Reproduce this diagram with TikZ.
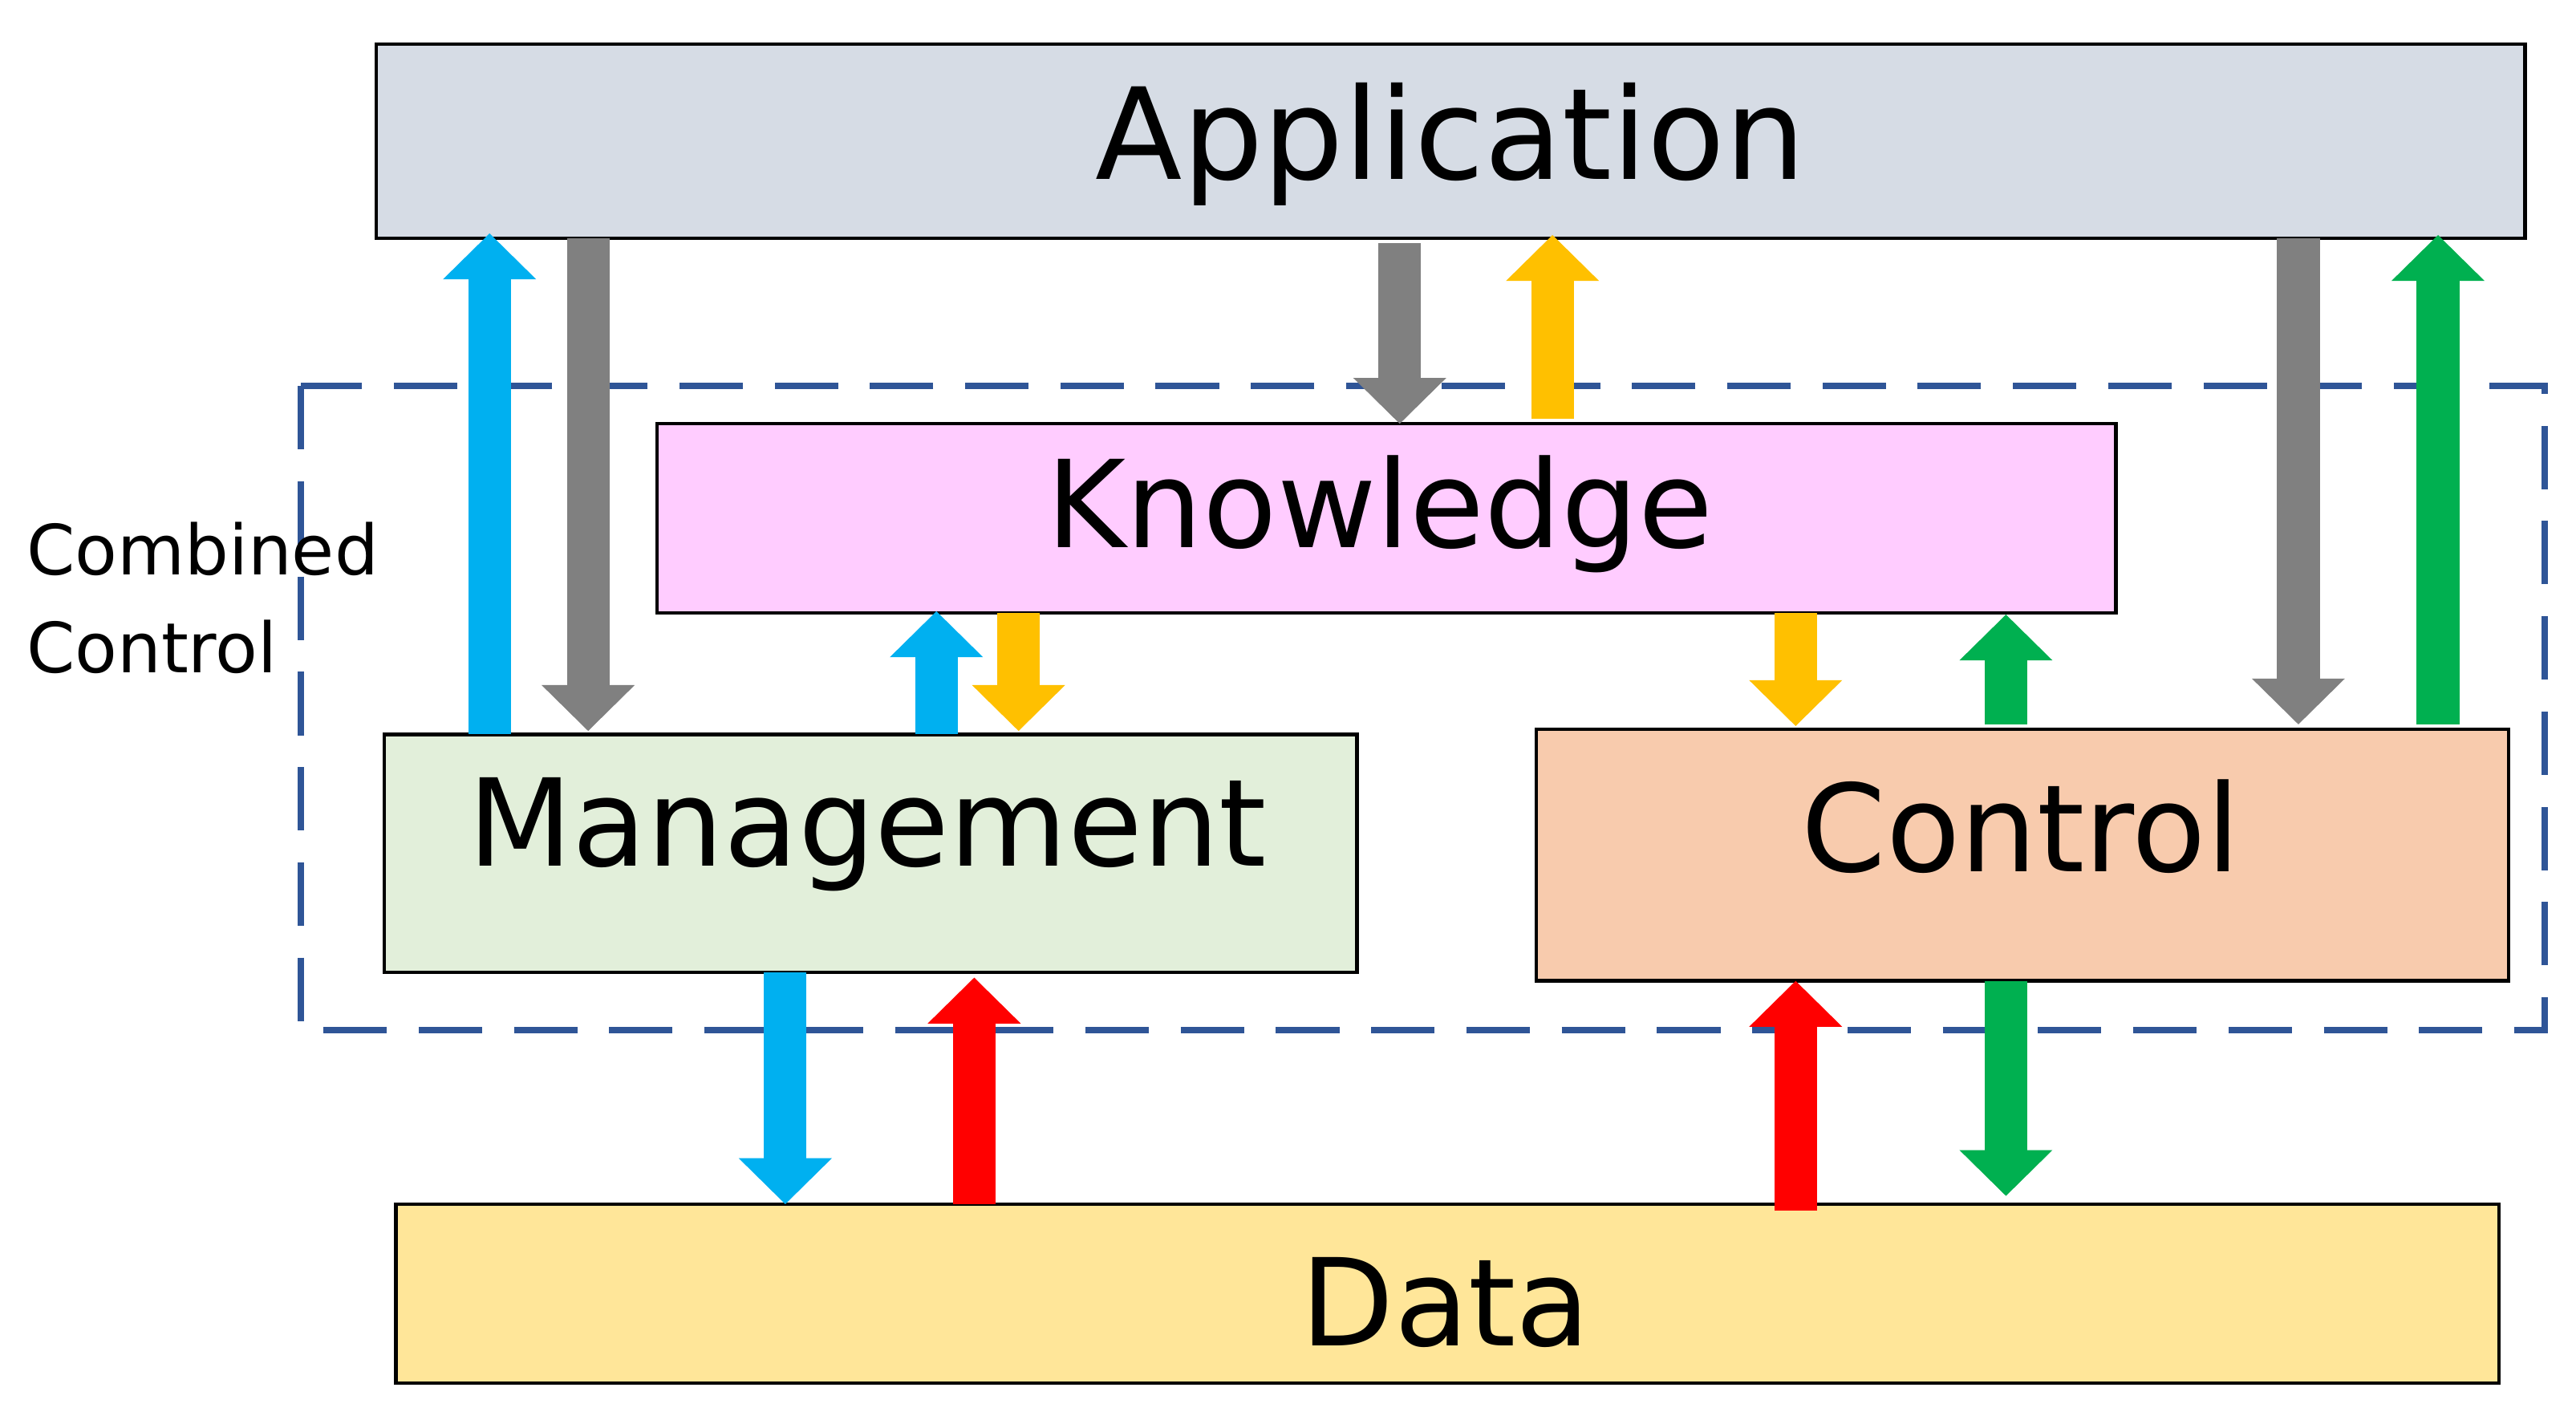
\documentclass[tikz,border=0pt]{standalone}
\usepackage{fontspec}
\setmainfont{DejaVu Sans}
\usetikzlibrary{arrows.meta}
\definecolor{cblue}{HTML}{00B0F0}
\definecolor{cgray}{HTML}{808080}
\definecolor{cyel}{HTML}{FFC000}
\definecolor{cgreen}{HTML}{00B050}
\definecolor{cred}{HTML}{FF0000}
\definecolor{cdash}{HTML}{2F5597}
\begin{document}
\begin{tikzpicture}[x=0.02cm,y=-0.02cm,
  box/.style={draw=black,line width=1.2pt,inner sep=0pt},
  fa/.style={line width=0.52cm,-{Triangle[width=1.1cm,length=0.56cm]}}]
\useasboundingbox (0,0) rectangle (1568,864);
\draw[cdash,line width=2.2pt,dash pattern=on 22pt off 11pt] (183,235) rectangle (1549,627);
\draw[box,fill={rgb,255:red,214;green,220;blue,229}] (229,27) rectangle (1537,145);
\node (app) at (883,88) {\fontsize{44}{50}\selectfont Application};
\draw[box,fill={rgb,255:red,255;green,204;blue,255}] (400,258) rectangle (1288,373);
\node (kn) at (840,313) {\fontsize{42}{50}\selectfont Knowledge};
\draw[box,fill={rgb,255:red,226;green,239;blue,218}] (234,447) rectangle (826,592);
\node (mg) at (528,508) {\fontsize{42}{50}\selectfont Management};
\draw[box,fill={rgb,255:red,248;green,203;blue,173}] (935,444) rectangle (1527,597);
\node (ct) at (1230,503) {\fontsize{42}{50}\selectfont Control};
\draw[box,fill={rgb,255:red,255;green,230;blue,153}] (241,733) rectangle (1521,842);
\node (dt) at (880,793) {\fontsize{42}{50}\selectfont Data};
\node[anchor=west,align=left,font=\fontsize{24}{34}\selectfont] (cc) at (10,364) {Combined\\Control};
\draw[fa,cblue] (298,447) -- (298,142);
\draw[fa,cgray] (358,145) -- (358,445);
\draw[fa,cgray] (852,148) -- (852,258);
\draw[fa,cyel] (945,255) -- (945,143);
\draw[fa,cgray] (1399,145) -- (1399,441);
\draw[fa,cgreen] (1484,441) -- (1484,143);
\draw[fa,cblue] (570,447) -- (570,372);
\draw[fa,cyel] (620,373) -- (620,445);
\draw[fa,cyel] (1093,373) -- (1093,442);
\draw[fa,cgreen] (1221,441) -- (1221,374);
\draw[fa,cblue] (478,592) -- (478,733);
\draw[fa,cred] (593,733) -- (593,595);
\draw[fa,cred] (1093,737) -- (1093,597);
\draw[fa,cgreen] (1221,597) -- (1221,728);
\end{tikzpicture}
\end{document}
